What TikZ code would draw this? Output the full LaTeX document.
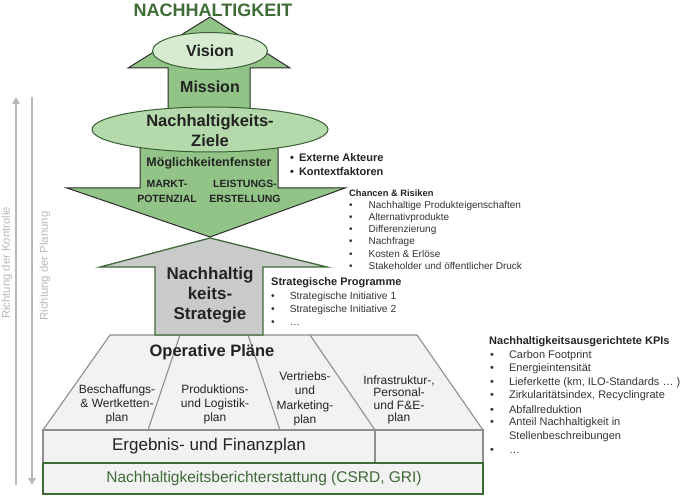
\documentclass[tikz,border=0pt]{standalone}
\usepackage{fontspec}
\setmainfont{Liberation Sans}
\usetikzlibrary{shapes.geometric,arrows.meta}
\definecolor{titlegreen}{HTML}{3E6B36}
\definecolor{arrowgreen}{HTML}{93C487}
\definecolor{visiongreen}{HTML}{D6EBCF}
\definecolor{zielgreen}{HTML}{B4D9AA}
\definecolor{darkline}{HTML}{2B2B2B}
\definecolor{ellline}{HTML}{3A5E34}
\definecolor{stratgray}{HTML}{C9CACA}
\definecolor{planfill}{HTML}{F2F2F2}
\definecolor{planline}{HTML}{8E8E8E}
\definecolor{sidegray}{HTML}{B8B8B8}
\definecolor{textc}{HTML}{232323}
\definecolor{listc}{HTML}{333333}
\begin{document}
\begin{tikzpicture}[x=1pt,y=-1pt,
  lbl/.style={inner sep=0pt, text=textc, align=center},
  bul/.style={inner sep=0pt, anchor=west, text=listc},
  greenarrow/.style={fill=arrowgreen, draw=darkline, line width=1pt, line join=miter},
  planbox/.style={fill=planfill, draw=planline, line width=1.1pt},
  sidearrow/.style={draw=sidegray, line width=2.6pt, -{Triangle[length=7pt,width=7.5pt]}},
]
\useasboundingbox (0,0) rectangle (685,497);

% ---------- left direction arrows ----------
\coordinate (kBot) at (16,485);
\coordinate (kTop) at (16,97);
\coordinate (pTop) at (32,97);
\coordinate (pBot) at (32,485);
\draw[sidearrow] (kBot) -- (kTop);
\draw[sidearrow] (pTop) -- (pBot);
\node[rotate=90, inner sep=0pt, text=sidegray, font=\fontsize{11.3}{13}\selectfont] (kontrolle) at (7,263) {Richtung der Kontrolle};
\node[rotate=90, inner sep=0pt, text=sidegray, font=\fontsize{11.3}{13}\selectfont] (planung) at (45,266) {Richtung der Planung};

% ---------- operative plans ----------
\draw[planbox] (110,335) -- (417,335) -- (483,430) -- (43,430) -- cycle;
\draw[planline, line width=1.1pt] (180,335) -- (148,430);
\draw[planline, line width=1.1pt] (248,335) -- (280,430);
\draw[planline, line width=1.1pt] (310,335) -- (375,430);
\draw[planbox] (43,430) rectangle (483,463);
\draw[planline, line width=1.1pt] (375,430) -- (375,463);
\draw[fill=planfill, draw=titlegreen, line width=1.3pt] (43,463) rectangle (483,494);

\node[lbl, font=\bfseries\fontsize{16.5}{18}\selectfont] (operative) at (212,352) {Operative Pläne};
\node[lbl, font=\fontsize{12}{14}\selectfont] (beschaffung) at (117,404) {Beschaffungs-\\\& Wertketten-\\plan};
\node[lbl, font=\fontsize{12}{14}\selectfont] (produktion) at (215,404) {Produktions-\\und Logistik-\\plan};
\node[lbl, font=\fontsize{12}{14.5}\selectfont] (vertrieb) at (305,399) {Vertriebs-\\und\\Marketing-\\plan};
\node[lbl, font=\fontsize{12}{12.5}\selectfont] (infra) at (399,400) {Infrastruktur-,\\Personal-\\und F\&E-\\plan};
\node[lbl, font=\fontsize{17}{19}\selectfont] (ergebnis) at (209,446) {Ergebnis- und Finanzplan};
\node[lbl, text=titlegreen, font=\fontsize{15.5}{17}\selectfont] (bericht) at (264,478) {Nachhaltigkeitsberichterstattung (CSRD, GRI)};

% ---------- strategy arrow (gray, up) ----------
\draw[fill=stratgray, draw=titlegreen, line width=1.3pt, line join=miter]
  (210,238) -- (327,267) -- (263,267) -- (263,335) -- (155,335) -- (155,267) -- (100,267) -- cycle;
\node[lbl, font=\bfseries\fontsize{17}{20}\selectfont] (strategie) at (210,295) {Nachhaltig\\keits-\\Strategie};

% ---------- opportunity window arrow (green, down) ----------
\draw[greenarrow]
  (140,140) -- (278,140) -- (278,188) -- (345,188) -- (210,237) -- (67,188) -- (140,188) -- cycle;
\node[lbl, font=\bfseries\fontsize{12.5}{14}\selectfont] (fenster) at (209,163) {Möglichkeitenfenster};
\node[lbl, font=\bfseries\fontsize{10.5}{15}\selectfont] (markt) at (167,191.5) {MARKT-\\POTENZIAL};
\node[lbl, font=\bfseries\fontsize{10.5}{15}\selectfont] (leistung) at (245,191.5) {LEISTUNGS-\\ERSTELLUNG};

% ---------- mission arrow (green, up) ----------
\draw[greenarrow]
  (210,17) -- (290,68) -- (250,68) -- (250,115) -- (168,115) -- (168,68) -- (128,68) -- cycle;
\node[ellipse, draw=ellline, line width=1pt, fill=visiongreen, minimum width=115pt, minimum height=37pt, inner sep=0pt,
  text=textc, font=\bfseries\fontsize{16}{18}\selectfont] (vision) at (210,51) {Vision};
\node[lbl, font=\bfseries\fontsize{16}{18}\selectfont] (mission) at (210,87) {Mission};
\node[ellipse, draw=ellline, line width=1pt, fill=zielgreen, minimum width=236pt, minimum height=45pt, inner sep=0pt] (ziele) at (210,129.5) {};
\node[lbl, font=\bfseries\fontsize{16.5}{20}\selectfont] (zieletext) at (210,131) {Nachhaltigkeits-\\Ziele};

\node[inner sep=0pt, text=titlegreen, font=\bfseries\fontsize{18}{20}\selectfont] (title) at (213,10) {NACHHALTIGKEIT};

% ---------- external factors ----------
\node[bul, text=textc, font=\bfseries\fontsize{11}{13}\selectfont] (ext1) at (290,158) {•\hspace{5pt}Externe Akteure};
\node[bul, text=textc, font=\bfseries\fontsize{11}{13}\selectfont] (ext2) at (290,172) {•\hspace{5pt}Kontextfaktoren};

% ---------- Chancen & Risiken ----------
\node[bul, text=textc, font=\bfseries\fontsize{9.3}{11}\selectfont] (chtitle) at (349,193) {Chancen \& Risiken};
\begin{scope}[every node/.style={bul, font=\fontsize{10}{11}\selectfont}]
\node (ch1) at (349,206) {•\hspace{16pt}Nachhaltige Produkteigenschaften};
\node (ch2) at (349,218) {•\hspace{16pt}Alternativprodukte};
\node (ch3) at (349,230) {•\hspace{16pt}Differenzierung};
\node (ch4) at (349,242) {•\hspace{16pt}Nachfrage};
\node (ch5) at (349,254) {•\hspace{16pt}Kosten \& Erlöse};
\node (ch6) at (349,266) {•\hspace{16pt}Stakeholder und öffentlicher Druck};
\end{scope}

% ---------- Strategische Programme ----------
\node[bul, text=textc, font=\bfseries\fontsize{11}{12}\selectfont] (sptitle) at (271,283) {Strategische Programme};
\begin{scope}[every node/.style={bul, font=\fontsize{10.3}{12}\selectfont}]
\node (sp1) at (271,297) {•\hspace{15pt}Strategische Initiative 1};
\node (sp2) at (271,310) {•\hspace{15pt}Strategische Initiative 2};
\node (sp3) at (271,323) {•\hspace{15pt}…};
\end{scope}

% ---------- KPIs ----------
\node[bul, text=textc, font=\bfseries\fontsize{11}{13}\selectfont] (kpititle) at (489,342) {Nachhaltigkeitsausgerichtete KPIs};
\begin{scope}[every node/.style={bul, font=\fontsize{11}{13}\selectfont}]
\node (k1) at (490,355.5) {•\hspace{15pt}Carbon Footprint};
\node (k2) at (490,369) {•\hspace{15pt}Energieintensität};
\node (k3) at (490,382.5) {•\hspace{15pt}Lieferkette (km, ILO-Standards … )};
\node (k4) at (490,396) {•\hspace{15pt}Zirkularitätsindex, Recyclingrate};
\node (k5) at (490,409.5) {•\hspace{15pt}Abfallreduktion};
\node (k6) at (490,423) {•\hspace{15pt}Anteil Nachhaltigkeit in};
\node (k6b) at (508.9,436.5) {Stellenbeschreibungen};
\node (k7) at (490,451) {•\hspace{15pt}…};
\end{scope}
\end{tikzpicture}
\end{document}
